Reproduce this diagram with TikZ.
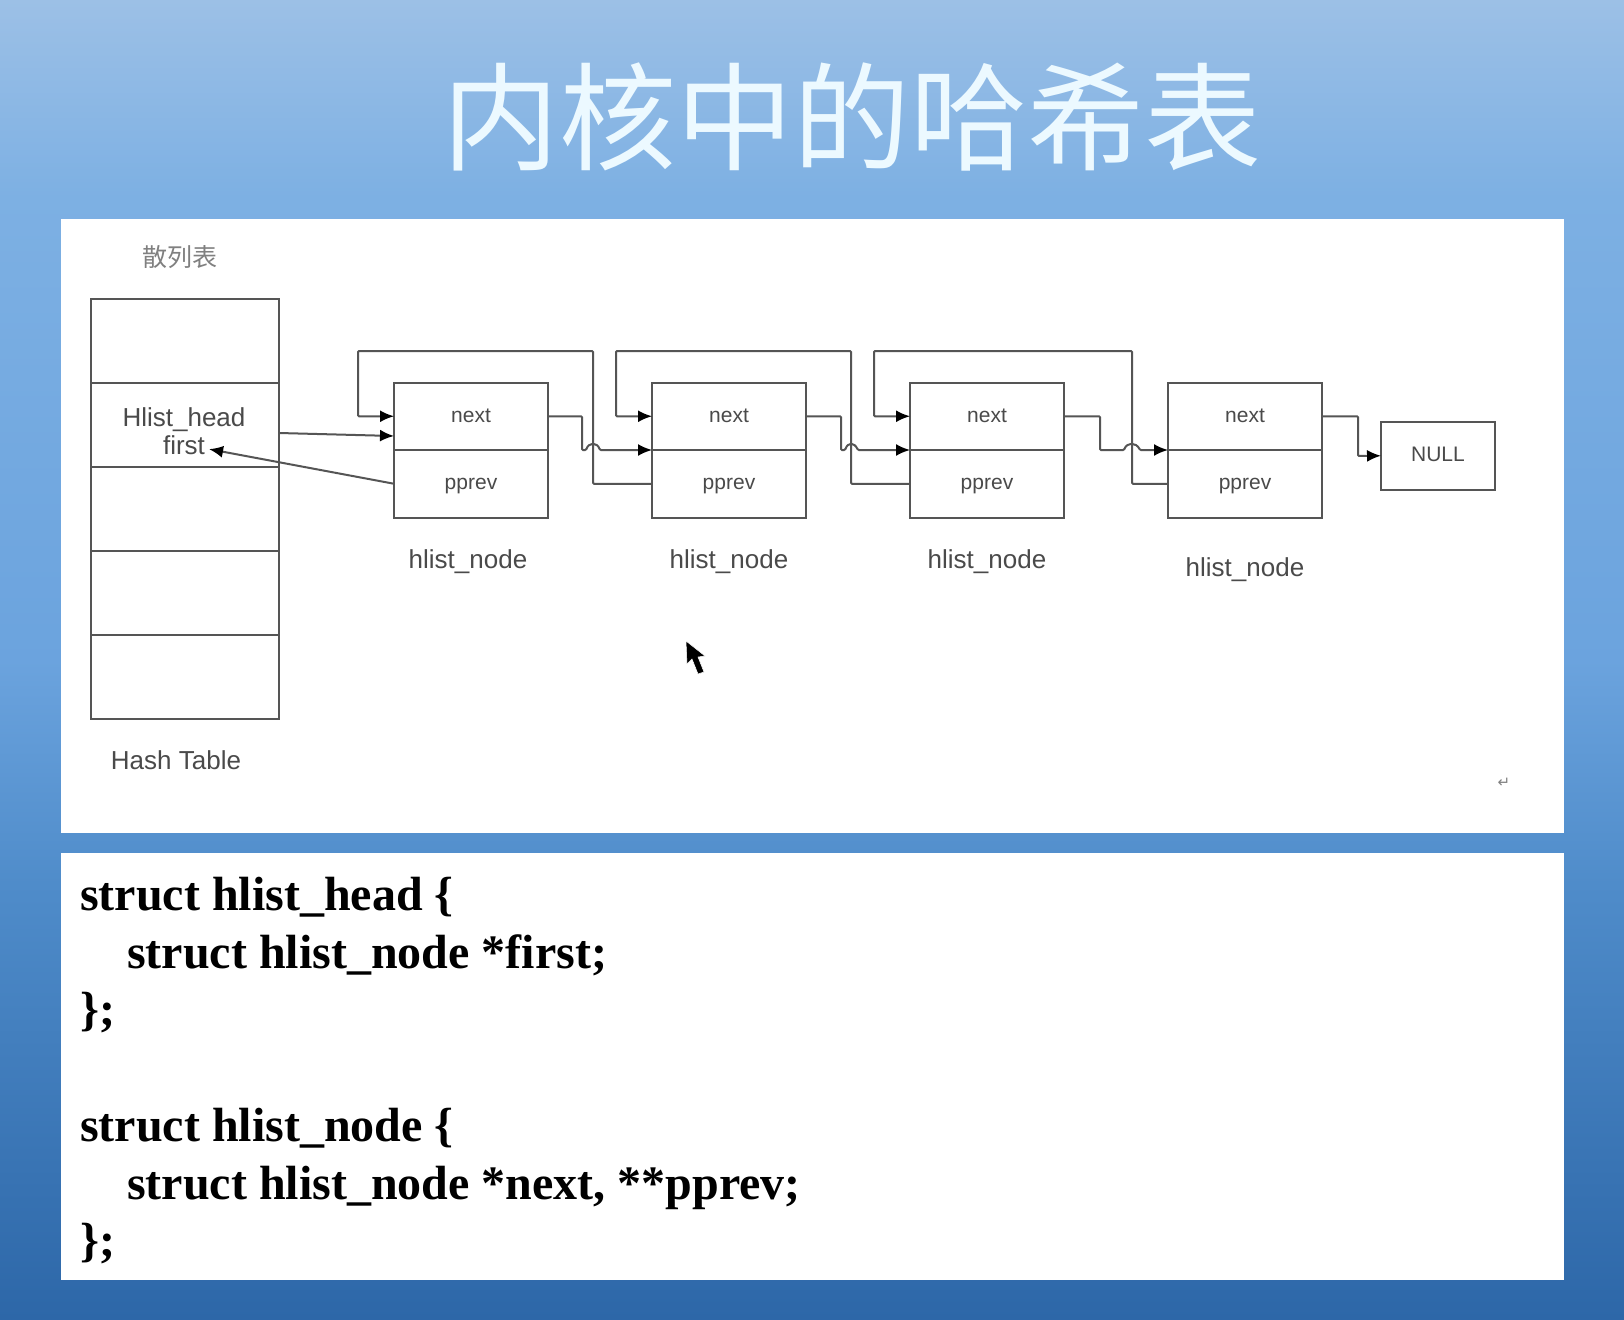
\documentclass[tikz,border=0pt]{standalone}
\usepackage{fontspec}
\setmainfont{Liberation Sans}
\newfontfamily\titlefont{Noto Sans CJK SC}
\newfontfamily\codefont{Liberation Serif}
\newfontfamily\symfont{DejaVu Sans}
\usetikzlibrary{arrows.meta}
\usetikzlibrary{positioning}
\definecolor{linegray}{HTML}{555555}
\definecolor{textgray}{HTML}{4A4A4A}
\pgfdeclareverticalshading{slideramp}{100bp}{
    rgb(0bp)=(0.176,0.404,0.659);
    rgb(25bp)=(0.176,0.404,0.659);
    rgb(41.5bp)=(0.310,0.549,0.792);
    rgb(50bp)=(0.420,0.640,0.870);
    rgb(67.5bp)=(0.490,0.690,0.890);
    rgb(75bp)=(0.612,0.753,0.902);
    rgb(100bp)=(0.612,0.753,0.902)}

\begin{document}
\begin{tikzpicture}[x=1pt,y=-1pt,
    panel/.style={fill=white, anchor=north west, inner sep=0pt, outer sep=0pt},
    cell/.style={draw=linegray, line width=2pt, minimum width=188pt, minimum height=84pt, inner sep=0pt, outer sep=0pt},
    field/.style={draw=linegray, line width=2pt, minimum width=154pt, minimum height=67.5pt, inner sep=0pt, outer sep=0pt, text=textgray, text height=15pt, text depth=3pt, font=\fontsize{21}{21}\selectfont},
    caption/.style={text=textgray, inner sep=0pt, text height=19pt, text depth=6pt, font=\fontsize{26}{26}\selectfont},
    link/.style={draw=linegray, line width=2pt, rounded corners=1pt},
    linkto/.style={link, -{Latex[length=14pt,width=12pt,black]}}]
    \useasboundingbox (0,0) rectangle (1624,1319);
    \shade[shading=slideramp] (0,0) rectangle (1624,1319);

    \node[text={rgb,255:red,236;green,249;blue,255}, font=\titlefont\fontsize{117}{117}\selectfont] (title) at (852,117) {内核中的哈希表};

    \node[panel, minimum width=1503pt, minimum height=614pt] (panelA) at (61,219) {};
    \node[panel, minimum width=1503pt, minimum height=427pt] (panelB) at (61,853) {};

    % hash table
    \node[cell, anchor=north west] (cell1) at (91,299) {};
    \node[cell, below=0pt of cell1] (cell2) {};
    \node[cell, below=0pt of cell2] (cell3) {};
    \node[cell, below=0pt of cell3] (cell4) {};
    \node[cell, below=0pt of cell4] (cell5) {};
    \node[text=gray, inner sep=0pt, font=\titlefont\fontsize{25}{25}\selectfont] (cnlabel) at (180,257) {散列表};
    \node[caption] (hashlabel) at (176,763) {Hash Table};
    \node[caption] (hlhead) at (184,420) {Hlist\_head};
    \node[caption, below=3pt of hlhead] (hlfirst) {first};

    % list nodes
    \node[field, anchor=north west] (nxt1) at (394,382.5) {next};
    \node[field, below=0pt of nxt1] (prv1) {pprev};
    \node[field, right=104pt of nxt1] (nxt2) {next};
    \node[field, below=0pt of nxt2] (prv2) {pprev};
    \node[field, right=104pt of nxt2] (nxt3) {next};
    \node[field, below=0pt of nxt3] (prv3) {pprev};
    \node[field, right=104pt of nxt3] (nxt4) {next};
    \node[field, below=0pt of nxt4] (prv4) {pprev};
    \node[field, minimum width=114pt, anchor=north west] (null) at (1381,422) {NULL};

    \node[caption, below=32pt of prv1, xshift=-3pt] (lab1) {hlist\_node};
    \node[caption, below=32pt of prv2] (lab2) {hlist\_node};
    \node[caption, below=32pt of prv3] (lab3) {hlist\_node};
    \node[caption, below=40pt of prv4] (lab4) {hlist\_node};

    % head pointers
    \coordinate (hout) at (279,433);
    \coordinate (hin) at (394,436);
    \draw[linkto] (hout) -- (hin);
    \draw[linkto, shorten >=4pt] (prv1.west) -- (hlfirst.east);

    % pprev lines
    \coordinate (up1a) at (593,351);
    \coordinate (up1b) at (358,351);
    \draw[linkto] (prv2.west) -| (up1a) -- (up1b) |- (nxt1.west);
    \coordinate (up2a) at (851,351);
    \coordinate (up2b) at (616,351);
    \draw[linkto] (prv3.west) -| (up2a) -- (up2b) |- (nxt2.west);
    \coordinate (up3a) at (1132,351);
    \coordinate (up3b) at (874,351);
    \draw[linkto] (prv4.west) -| (up3a) -- (up3b) |- (nxt3.west);

    % next lines
    \coordinate (dn1) at (582,450);
    \draw[linkto] (nxt1.east) -| (dn1) -- (586,450) .. controls (589,442) and (597,442) .. (600,450) -- (nxt2.south west);
    \coordinate (dn2) at (841,450);
    \draw[linkto] (nxt2.east) -| (dn2) -- (845,450) .. controls (848,442) and (854,442) .. (858,450) -- (nxt3.south west);
    \coordinate (dn3) at (1100,450);
    \draw[linkto] (nxt3.east) -| (dn3) -- (1124,450) .. controls (1127,442) and (1136,442) .. (1140,450) -- (nxt4.south west);
    \coordinate (dn4) at (1358,456);
    \draw[linkto] (nxt4.east) -| (dn4) -- (null.west);

    \node[text=gray, inner sep=0pt, font=\symfont\fontsize{15}{15}\selectfont] (retmark) at (1504,783) {↵};
    \fill[black, draw=white, line width=0.5pt] (686,641) -- (687,664) -- (692,659) -- (698,674) -- (704,672) -- (698,657) -- (705,656) -- cycle;

    % code
    \node[anchor=north west, align=left, inner sep=0pt, font=\codefont\bfseries\fontsize{48}{57.7}\selectfont] (code) at (80,877) {struct hlist\_head \{\\
        \hspace{47pt}struct hlist\_node *first;\\
        \};\\
        \mbox{}\\
        struct hlist\_node \{\\
        \hspace{47pt}struct hlist\_node *next, **pprev;\\
        \};};
\end{tikzpicture}
\end{document}
